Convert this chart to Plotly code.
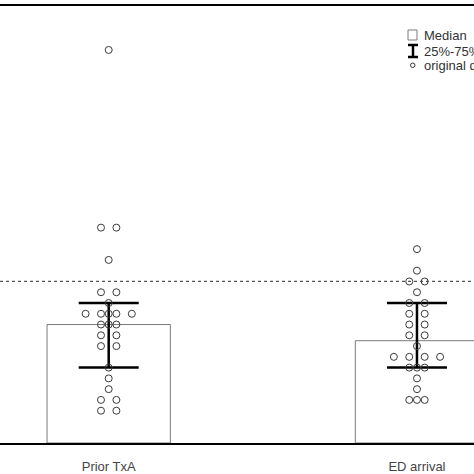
import numpy as np
import plotly.graph_objects as go

# values (units of the hidden y axis)
categories = ["Prior TxA", "ED arrival"]
medians = [11.0, 9.5]
q1 = [7.0, 7.0]
q3 = [13.0, 13.0]
reference_level = 15

prior_txa = [36.5, 20, 20, 17, 14, 14, 13, 12, 12, 12, 12, 12, 11, 11, 11,
             10, 10, 9, 9, 7, 6, 5, 4, 4, 3, 3]
ed_arrival = [18, 16, 15, 15, 14, 13, 13, 12, 12, 11, 11, 10, 10, 9,
              8, 8, 8, 8, 7, 7, 7, 6, 5, 4, 4, 4]

FIG_SIZE = 474
MARGIN_T = 6
MARGIN_B = 31
X_RANGE = [-0.3526, 1.185]
Y_RANGE = [0, 40.58]
DOT_STEP = 0.025  # horizontal spacing of tied points
FONT = "Liberation Sans, Arial, sans-serif"


def spread(values, centre):
    """Spread tied values sideways: odd counts keep one point in the middle."""
    xs, ys = [], []
    for v in sorted(set(values), reverse=True):
        n = values.count(v)
        offsets = [0] if n % 2 else []
        for i in range(n // 2):
            offsets += [-(2 * i + 1), 2 * i + 1]
        xs += [centre + o * DOT_STEP for o in offsets]
        ys += [v] * n
    return xs, ys


def px(x, y):
    """Pixel position in the picture -> paper coordinates."""
    h = FIG_SIZE - MARGIN_T - MARGIN_B
    return x / FIG_SIZE, (FIG_SIZE - MARGIN_B - y) / h


positions = list(range(len(categories)))
fig = go.Figure()

fig.add_trace(go.Bar(
    x=positions, y=medians, width=0.4,
    marker=dict(color="rgba(0,0,0,0)", line=dict(color="#7a7a7a", width=1)),
))

fig.add_trace(go.Scatter(
    x=positions, y=medians, mode="markers",
    marker=dict(size=1, opacity=0),
    error_y=dict(
        type="data", symmetric=False,
        array=(np.array(q3) - np.array(medians)).tolist(),
        arrayminus=(np.array(medians) - np.array(q1)).tolist(),
        color="black", thickness=2.5, width=30,
    ),
))

for pos, group in zip(positions, [prior_txa, ed_arrival]):
    xs, ys = spread(group, pos)
    fig.add_trace(go.Scatter(
        x=xs, y=ys, mode="markers",
        marker=dict(symbol="circle-open", size=7, color="#3a3a3a",
                    line=dict(width=1)),
    ))

fig.add_shape(type="line", xref="paper", x0=0, x1=1,
              y0=reference_level, y1=reference_level,
              line=dict(color="#555555", width=1.2, dash="dot"))

# hand-made legend (box, I-bar, small circle)
shapes = []
x0, y0 = px(408, 30)
x1, y1 = px(417, 40)
shapes.append(dict(type="rect", x0=x0, x1=x1, y0=y0, y1=y1,
                   line=dict(color="#7a7a7a", width=1)))
xm, yt = px(413, 45)
_, yb = px(413, 57)
xl, _ = px(408, 0)
xr, _ = px(418, 0)
shapes.append(dict(type="line", x0=xm, x1=xm, y0=yt, y1=yb,
                   line=dict(color="black", width=2.5)))
for yy in (yt, yb):
    shapes.append(dict(type="line", x0=xl, x1=xr, y0=yy, y1=yy,
                       line=dict(color="black", width=2.5)))
cx0, cy0 = px(410.5, 63)
cx1, cy1 = px(415, 67.5)
shapes.append(dict(type="circle", x0=cx0, x1=cx1, y0=cy0, y1=cy1,
                   line=dict(color="#333333", width=1)))
for s in shapes:
    s.update(xref="paper", yref="paper")
    fig.add_shape(**s)

for label, y in [("Median", 35), ("25%-75%", 51), ("original data", 65.5)]:
    ax, ay = px(422, y)
    fig.add_annotation(x=ax, y=ay, xref="paper", yref="paper", text=label,
                       showarrow=False, xanchor="left", yanchor="middle",
                       font=dict(family=FONT, size=13, color="#333333"))

fig.update_xaxes(
    range=X_RANGE, tickvals=positions, ticktext=categories,
    showline=True, linecolor="black", linewidth=2, mirror=True,
    showgrid=False, zeroline=False,
    ticks="outside", ticklen=10, tickcolor="rgba(0,0,0,0)",
    tickfont=dict(family=FONT, size=13, color="#444444"),
)
fig.update_yaxes(range=Y_RANGE, visible=False)

fig.update_layout(
    width=FIG_SIZE, height=FIG_SIZE,
    margin=dict(l=0, r=0, t=MARGIN_T, b=MARGIN_B),
    plot_bgcolor="white", paper_bgcolor="white",
    showlegend=False,
)

# the page's default body margin would shift the plot and add scrollbars
fig.write_html(
    "out.html",
    config={"displayModeBar": False},
    post_script="document.body.style.margin='0';"
                "document.body.style.overflow='hidden';",
)
